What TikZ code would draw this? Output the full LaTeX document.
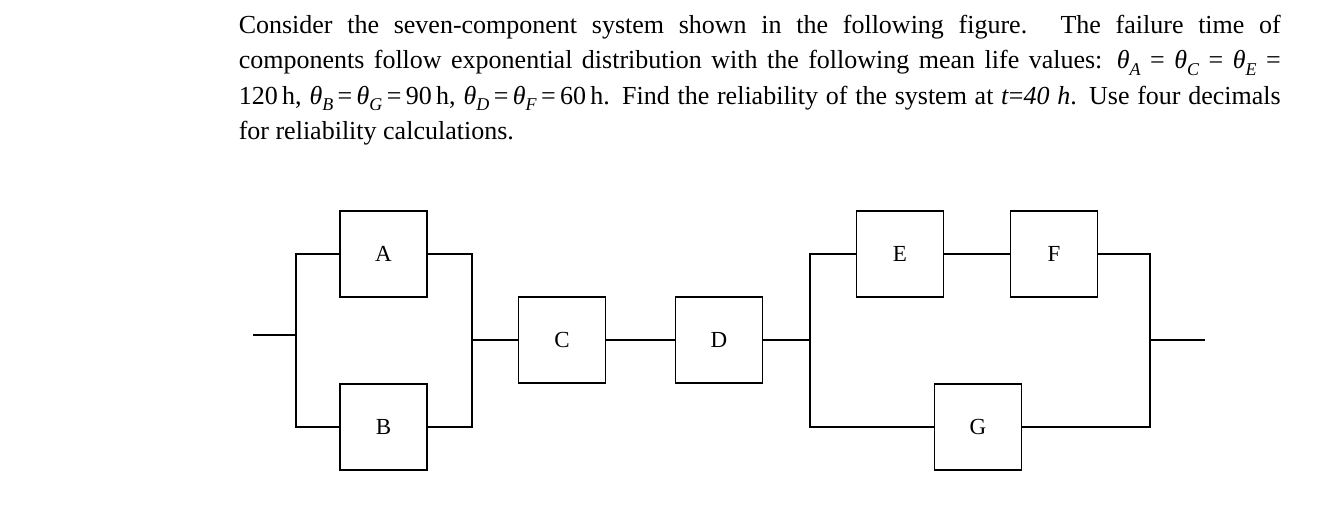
\documentclass[tikz,border=0pt]{standalone}
\usepackage{fontspec}
\setmainfont{Liberation Serif}
\newcommand{\thsub}[1]{\textit{θ}\raisebox{-0.25em}{\fontsize{18}{18}\selectfont\textit{#1}}}
\begin{document}
\begin{tikzpicture}[x=1pt,y=-1pt,line width=1.5pt,
  comp/.style={draw,minimum width=87pt,minimum height=86pt,inner sep=0pt,font=\fontsize{23}{26}\selectfont}]
\useasboundingbox (0,0) rectangle (1329,517);
\node[anchor=north west,inner sep=0pt,text width=1042pt,align=justify,font=\fontsize{26}{35.5}\selectfont] (txt) at (238,14)
{Consider the seven-component system shown in the following figure. The failure time of\linebreak
components follow exponential distribution with the following mean life values: \thsub{A} = \thsub{C} = \thsub{E} =\linebreak
120\,h, \thsub{B}\,=\,\thsub{G}\,=\,90\,h, \thsub{D}\,=\,\thsub{F}\,=\,60\,h. Find the reliability of the system at \textit{t}=\textit{40 h}. Use four decimals\linebreak
for reliability calculations.};
\node[comp] (A) at (383.5,254) {A};
\node[comp] (B) at (383.5,427) {B};
\node[comp] (C) at (562,340) {C};
\node[comp] (D) at (719,340) {D};
\node[comp] (E) at (900,254) {E};
\node[comp] (F) at (1054,254) {F};
\node[comp] (G) at (978,427) {G};
\coordinate (in) at (253,335);
\coordinate (out) at (1205,340);
\draw (in) -- (296,335);
\draw (A.west) -- (296,254) -- (296,427) -- (B.west);
\draw (A.east) -- (472,254) -- (472,427) -- (B.east);
\draw (472,340) -- (C.west);
\draw (C) -- (D);
\draw (D.east) -- (810,340);
\draw (E.west) -- (810,254) -- (810,427) -- (G.west);
\draw (E) -- (F);
\draw (F.east) -- (1150,254) -- (1150,427) -- (G.east);
\draw (1150,340) -- (out);
\end{tikzpicture}
\end{document}
